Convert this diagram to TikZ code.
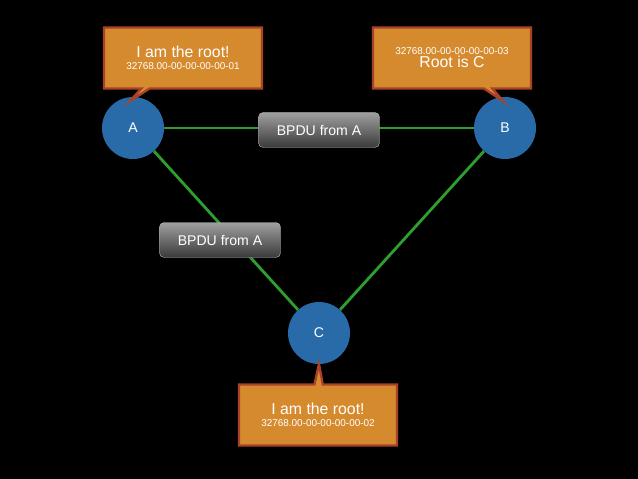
\documentclass[tikz,border=0pt]{standalone}
\usepackage{fontspec}
\setmainfont{Liberation Sans}
\usetikzlibrary{shapes.callouts}
\definecolor{nodeblue}{rgb}{0.16,0.42,0.66}
\definecolor{linkgreen}{rgb}{0.18,0.62,0.18}
\definecolor{calloutfill}{rgb}{0.84,0.54,0.18}
\definecolor{calloutline}{rgb}{0.66,0.26,0.16}
\tikzset{
  switch/.style={circle,fill=nodeblue,minimum size=62*0.03cm,inner sep=0pt,text=white,font=\fontsize{12}{14}\selectfont},
  link/.style={draw=linkgreen,line width=2.4pt},
  bpdu/.style={rounded corners=4pt,top color=gray!75,bottom color=gray!45!black,draw=gray!60,text=white,minimum width=121*0.03cm,minimum height=35*0.03cm,font=\fontsize{12}{14}\selectfont},
  note/.style={rectangle callout,fill=calloutfill,draw=calloutline,line width=2pt,text=white,minimum width=158*0.03cm,minimum height=61*0.03cm,align=center,inner sep=2pt}
}
\newcommand{\bigtxt}[1]{{\fontsize{13.5}{16}\selectfont #1}}
\newcommand{\smalltxt}[1]{{\fontsize{8.5}{10}\selectfont #1}}
\begin{document}
\begin{tikzpicture}[x=0.03cm,y=-0.03cm]
\fill[black] (0,0) rectangle (638,479);
\node[switch] (a) at (133,128) {A};
\node[switch] (b) at (505,128) {B};
\node[switch] (c) at (319,333) {C};
\draw[link] (a) -- (b);
\draw[link] (a) -- (c);
\draw[link] (b) -- (c);
\node[bpdu] (ab) at (319,130) {BPDU from A};
\node[bpdu] (ac) at (220,240) {BPDU from A};
% callouts
\coordinate (pa) at (130,101);
\coordinate (pb) at (503,101);
\coordinate (pc) at (319,364);
\node[note,callout absolute pointer=(pa)] (na) at (183,58) {\bigtxt{I am the root!}\\[-2pt]\smalltxt{32768.00-00-00-00-00-01}};
\node[note,callout absolute pointer=(pb)] (nb) at (452,58) {\smalltxt{32768.00-00-00-00-00-03}\\[-1pt]\bigtxt{Root is C}};
\node[note,callout absolute pointer=(pc)] (nc) at (318,415) {\bigtxt{I am the root!}\\[-2pt]\smalltxt{32768.00-00-00-00-00-02}};
\end{tikzpicture}
\end{document}
